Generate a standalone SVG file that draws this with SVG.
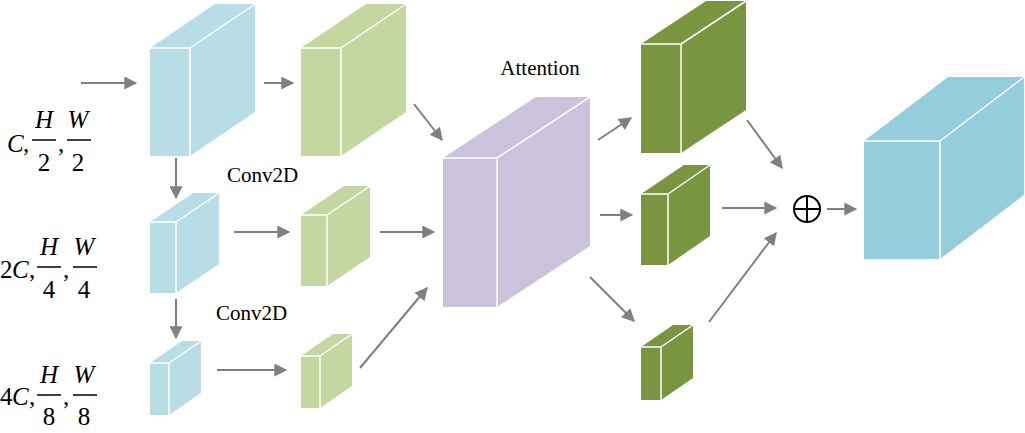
<svg xmlns="http://www.w3.org/2000/svg" width="1025" height="433" viewBox="0 0 1025 433">
<defs>
<marker id="ah" viewBox="0 0 10 10" refX="9" refY="5" markerWidth="7" markerHeight="6.5" orient="auto" markerUnits="strokeWidth"><path d="M0,0 L10,5 L0,10 Z" fill="#808080"/></marker>
<style>
.e{fill:none;stroke:#fff;stroke-width:1.5}
.a{stroke:#808080;stroke-width:2;fill:none;marker-end:url(#ah)}
.fl{stroke:#000;stroke-width:1.5}
text{font-family:"Times New Roman","Liberation Serif",serif}
</style>
</defs>
<rect width="1025" height="433" fill="#fff"/>
<g id="blue1" fill="#b8dde7"><polygon points="150,48 215,4 255,4 255,112 190,156 150,156"/><path class="e" d="M150,48 H190 V156 M190,48 L255,4"/></g>
<g id="green1" fill="#c5d7a0"><polygon points="301,48 366,4 406,4 406,112 341,156 301,156"/><path class="e" d="M301,48 H341 V156 M341,48 L406,4"/></g>
<g id="blue2" fill="#b8dde7"><polygon points="150,222 193,193 219,193 219,264 176,293 150,293"/><path class="e" d="M150,222 H176 V293 M176,222 L219,193"/></g>
<g id="green2" fill="#c5d7a0"><polygon points="301,215 344,186 370,186 370,257 327,286 301,286"/><path class="e" d="M301,215 H327 V286 M327,215 L370,186"/></g>
<g id="blue3" fill="#b8dde7"><polygon points="150,363 182,341 201,341 201,393 169,415 150,415"/><path class="e" d="M150,363 H169 V415 M169,363 L201,341"/></g>
<g id="green3" fill="#c5d7a0"><polygon points="301,356 333,334 352,334 352,386 320,408 301,408"/><path class="e" d="M301,356 H320 V408 M320,356 L352,334"/></g>
<g id="attention" fill="#cbc2dc"><polygon points="443,158 536,97 590,97 590,246 497,307 443,307"/><path class="e" d="M443,158 H497 V307 M497,158 L590,97"/></g>
<g id="dg1" fill="#7a9540"><polygon points="641,44 706,1 746,1 746,110 681,153 641,153"/><path class="e" d="M641,44 H681 V153 M681,44 L746,1"/></g>
<g id="dg2" fill="#7a9540"><polygon points="641,194 684,165 710,165 710,236 668,265 641,265"/><path class="e" d="M641,194 H668 V265 M668,194 L710,165"/></g>
<g id="dg3" fill="#7a9540"><polygon points="641,347 673,325 693,325 693,378 661,400 641,400"/><path class="e" d="M641,347 H661 V400 M661,347 L693,325"/></g>
<g id="output" fill="#94cddc"><polygon points="864,141 948,77 1024,77 1024,195 940,259 864,259"/><path class="e" d="M864,141 H940 V259 M940,141 L1024,77"/></g>
<g id="sum"><circle cx="807" cy="209" r="13" fill="none" stroke="#000" stroke-width="2"/><path d="M794,209 H820 M807,196 V222" stroke="#000" stroke-width="2"/></g>
<g id="connectors">
<line class="a" x1="81" y1="83" x2="136" y2="83"/>
<line class="a" x1="264" y1="83" x2="293" y2="83"/>
<line class="a" x1="176" y1="158" x2="176" y2="198"/>
<line class="a" x1="234" y1="232" x2="289" y2="232"/>
<line class="a" x1="176" y1="299" x2="176" y2="338"/>
<line class="a" x1="217" y1="370" x2="286" y2="370"/>
<line class="a" x1="414" y1="104" x2="442" y2="140"/>
<line class="a" x1="380" y1="232" x2="434" y2="232"/>
<line class="a" x1="360" y1="368" x2="427" y2="288"/>
<line class="a" x1="598" y1="140" x2="631" y2="118"/>
<line class="a" x1="600" y1="215" x2="632" y2="215"/>
<line class="a" x1="590" y1="277" x2="634" y2="321"/>
<line class="a" x1="747" y1="120" x2="782" y2="168"/>
<line class="a" x1="722" y1="208" x2="776" y2="208"/>
<line class="a" x1="709" y1="322" x2="776" y2="233"/>
<line class="a" x1="827" y1="209" x2="856" y2="209"/>
</g>
<g fill="#000">
<text font-size="21" x="540" y="75" text-anchor="middle">Attention</text>
<text font-size="21" x="227" y="182">Conv2D</text>
<text font-size="21" x="216" y="320">Conv2D</text>
<g id="label1" font-size="25">
<text font-style="italic" x="7" y="152">C</text><text x="23" y="152">,</text>
<text font-style="italic" x="44" y="128" text-anchor="middle">H</text><line class="fl" x1="32" y1="140" x2="56" y2="140"/><text x="44" y="171" text-anchor="middle">2</text>
<text x="58" y="152">,</text>
<text font-style="italic" x="78" y="128" text-anchor="middle">W</text><line class="fl" x1="67" y1="140" x2="91" y2="140"/><text x="78" y="171" text-anchor="middle">2</text>
</g>
<g id="label2" font-size="25">
<text x="0" y="278">2</text><text font-style="italic" x="12" y="278">C</text><text x="29" y="278">,</text>
<text font-style="italic" x="49" y="255" text-anchor="middle">H</text><line class="fl" x1="37" y1="267" x2="61" y2="267"/><text x="49" y="298" text-anchor="middle">4</text>
<text x="63" y="278">,</text>
<text font-style="italic" x="84" y="255" text-anchor="middle">W</text><line class="fl" x1="73" y1="267" x2="97" y2="267"/><text x="84" y="298" text-anchor="middle">4</text>
</g>
<g id="label3" font-size="25">
<text x="0" y="405">4</text><text font-style="italic" x="12" y="405">C</text><text x="29" y="405">,</text>
<text font-style="italic" x="49" y="383" text-anchor="middle">H</text><line class="fl" x1="37" y1="395" x2="61" y2="395"/><text x="49" y="425" text-anchor="middle">8</text>
<text x="63" y="405">,</text>
<text font-style="italic" x="84" y="383" text-anchor="middle">W</text><line class="fl" x1="73" y1="395" x2="97" y2="395"/><text x="84" y="425" text-anchor="middle">8</text>
</g>
</g>
</svg>
